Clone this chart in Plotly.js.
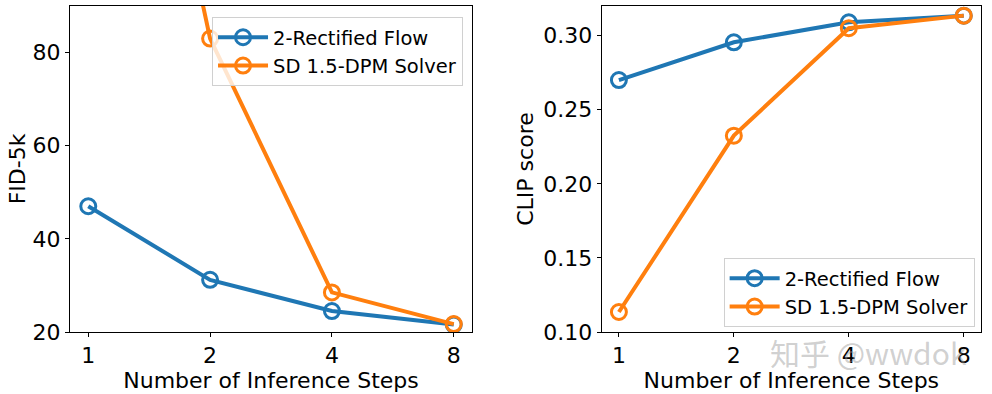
<!DOCTYPE html>
<html>
<head>
<meta charset="utf-8">
<script src="https://cdn.plot.ly/plotly-3.0.1.min.js"></script>
<style>html,body{margin:0;padding:0;background:#fff}#chart{width:992px;height:394px}</style>
</head>
<body>
<div id="chart"></div>
<script>
const steps = [1, 2, 4, 8];
const tickLabels = ["1", "2", "4", "8"];
const seriesNames = ["2-Rectified Flow", "SD 1.5-DPM Solver"];
const fidRectified = [47.0, 31.2, 24.5, 21.6];
const fidDPM = [205, 83.0, 28.5, 21.7];
const clipRectified = [0.270, 0.2955, 0.309, 0.3135];
const clipDPM = [0.1135, 0.2325, 0.305, 0.3135];

const colors = ["#1f77b4", "#ff7f0e"];
const FONT = "DejaVu Sans";

function tr(x, y, i, xa, ya, leg) {
  return {
    x: x, y: y, xaxis: xa, yaxis: ya, legend: leg,
    type: "scatter", mode: "lines+markers", name: seriesNames[i],
    line: {color: colors[i], width: 4},
    marker: {symbol: "circle-open", size: 15, color: colors[i], line: {width: 3, color: colors[i]}},
    showlegend: true
  };
}

const data = [
  tr(steps, fidRectified, 0, "x", "y", "legend"),
  tr(steps, fidDPM, 1, "x", "y", "legend"),
  tr(steps, clipRectified, 0, "x2", "y2", "legend2"),
  tr(steps, clipDPM, 1, "x2", "y2", "legend2")
];

const l2 = Math.log10(2);
const xr = [-0.15 * l2, 3.15 * l2];

function xaxis(domain, anchor) {
  return {
    domain: domain, anchor: anchor, type: "log", range: xr,
    tickvals: steps, ticktext: tickLabels,
    ticks: "outside", ticklen: 4, tickcolor: "#000", tickwidth: 1,
    showline: true, linecolor: "#000", linewidth: 1, mirror: true,
    showgrid: false, zeroline: false,
    tickfont: {family: FONT, size: 22, color: "#000"},
    title: {text: "Number of Inference Steps", font: {family: FONT, size: 22, color: "#000"}, standoff: 4}
  };
}
function yaxis(anchor, range, tv, tt, title, standoff) {
  return {
    domain: [0, 1], anchor: anchor, range: range,
    tickvals: tv, ticktext: tt,
    ticks: "outside", ticklen: 4, tickcolor: "#000", tickwidth: 1,
    showline: true, linecolor: "#000", linewidth: 1, mirror: true,
    showgrid: false, zeroline: false,
    tickfont: {family: FONT, size: 22, color: "#000"},
    title: {text: title, font: {family: FONT, size: 22, color: "#000"}, standoff: standoff}
  };
}

const legendStyle = {
  bgcolor: "rgba(255,255,255,0.8)", bordercolor: "#d0d0d0", borderwidth: 1,
  font: {family: FONT, size: 19.5, color: "#000"},
  itemwidth: 50, tracegroupgap: 0
};

const layout = {
  width: 992, height: 394,
  margin: {l: 70, r: 11, t: 6, b: 62},
  paper_bgcolor: "#fff", plot_bgcolor: "#fff",
  font: {family: FONT, color: "#000"},
  xaxis: xaxis([0, 0.4413], "y"),
  yaxis: yaxis("x", [20, 90], [20, 40, 60, 80], ["20", "40", "60", "80"], "FID-5k", 0),
  xaxis2: xaxis([0.5836, 1], "y2"),
  yaxis2: yaxis("x2", [0.10, 0.32], [0.10, 0.15, 0.20, 0.25, 0.30], ["0.10", "0.15", "0.20", "0.25", "0.30"], "CLIP score", 3),
  legend: Object.assign({x: 0.1559, y: 0.966, xanchor: "left", yanchor: "top"}, legendStyle),
  legend2: Object.assign({x: 0.7175, y: 0.227, xanchor: "left", yanchor: "top"}, legendStyle),
  annotations: [{
    text: "知乎 @wwdok", xref: "paper", yref: "paper", x: 0.876, y: -0.06,
    xanchor: "center", yanchor: "middle", showarrow: false,
    font: {family: "Noto Sans CJK SC", size: 30, color: "rgba(150,150,150,0.45)"}
  }]
};

Plotly.newPlot("chart", data, layout, {staticPlot: true, displayModeBar: false});
</script>
</body>
</html>
